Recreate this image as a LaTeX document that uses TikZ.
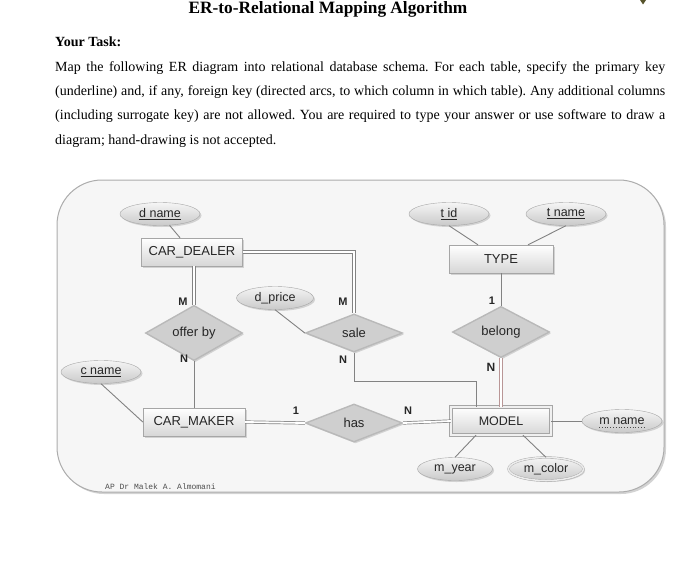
\documentclass[tikz,border=0pt]{standalone}
\usepackage{fontspec}
\setmainfont{Liberation Serif}
\newfontfamily\diagfont{Liberation Sans}
\newfontfamily\footfont{Liberation Mono}
\usetikzlibrary{shapes.geometric,shadows,calc}
\definecolor{pinkline}{RGB}{185,150,150}
\definecolor{linegray}{RGB}{130,130,130}
\frenchspacing
\begin{document}
\begin{tikzpicture}[x=1pt,y=-1pt,
  shd/.style={drop shadow={opacity=0.3,shadow xshift=1.5pt,shadow yshift=-1.5pt}},
  ent/.style={rectangle, draw=gray!70, top color=white, bottom color=gray!32, minimum width=101pt, minimum height=28pt, inner sep=0pt, font=\diagfont\fontsize{13}{15}\selectfont, text=black!85, shd},
  attr/.style={ellipse, draw=gray!70, top color=gray!8, bottom color=gray!42, minimum width=80pt, minimum height=23pt, inner sep=0pt, font=\diagfont\fontsize{12.5}{14}\selectfont, text=black!85, shd},
  rel/.style={diamond, draw=gray!55, line width=1.4pt, fill=gray!38, minimum width=97pt, minimum height=38pt, inner sep=0pt, font=\diagfont\fontsize{13}{15}\selectfont, text=black!85, shd},
  conn/.style={draw=linegray, line width=0.9pt},
  dconn/.style={draw=linegray, double=white, double distance=1.8pt, line width=0.7pt},
  card/.style={font=\diagfont\bfseries\fontsize{11}{12}\selectfont, text=black!85, inner sep=0pt},
  para/.style={anchor=base west, inner sep=0pt, font=\fontsize{14}{16}\selectfont}
]
\useasboundingbox (0,0) rectangle (700,578);
% header text
\node[anchor=base, inner sep=0pt, font=\bfseries\fontsize{17.3}{20}\selectfont] (title) at (328,14) {ER-to-Relational Mapping Algorithm};
\fill[olive!50!black] (640,0) -- (646,0) -- (643,4.5) -- cycle;
\node[para, font=\bfseries\fontsize{14}{16}\selectfont] (task) at (55,47) {Your Task:};
\node[para] (l1) at (55,71) {\makebox[610pt][s]{Map the following ER diagram into relational database schema. For each table, specify the primary key}};
\node[para] (l2) at (55,95) {\makebox[610pt][s]{(underline) and, if any, foreign key (directed arcs, to which column in which table). Any additional columns}};
\node[para] (l3) at (55,119) {\makebox[610pt][s]{(including surrogate key) are not allowed. You are required to type your answer or use software to draw a}};
\node[para] (l4) at (55,144) {diagram; hand-drawing is not accepted.};
% frame
\draw[rounded corners=45pt, fill=gray!7, draw=gray!65, line width=1pt, drop shadow={opacity=0.35,shadow xshift=2pt,shadow yshift=-2pt}] (57,180) rectangle (664,492);
% entities
\node[ent] (cd) at (192,252) {CAR\_DEALER};
\node[ent, minimum width=104pt] (type) at (501,259) {TYPE};
\node[ent, minimum width=102pt] (cm) at (194,422) {CAR\_MAKER};
\node[ent, minimum width=100pt, minimum height=28pt, double=gray!12, double distance=2.5pt, font=\diagfont\fontsize{12.5}{14}\selectfont] (model) at (501,421) {MODEL};
% attributes
\node[attr] (dname) at (160,214) {\underline{d name}};
\node[attr] (tid) at (449,214) {\underline{t id}};
\node[attr] (tname) at (566,214) {\underline{t name}};
\node[attr, minimum width=77pt] (dprice) at (275,298) {d\_price};
\node[attr] (cname) at (101,372) {\underline{c name}};
\node[attr] (mname) at (622,421) {m name};
\draw[black!70, line width=0.8pt, dotted] ($(mname.center)+(-23,6.5)$) -- ($(mname.center)+(23,6.5)$);
\node[attr, minimum width=75pt] (myear) at (455,469) {m\_year};
\node[attr, minimum width=75pt, double=gray!15, double distance=1.5pt] (mcolor) at (546,469) {m\_color};
% relationships
\node[rel] (offer) at (194,333) {offer by};
\node[rel] (sale) at (354,333) {sale};
\node[rel] (belong) at (501,332) {belong};
\node[rel] (has) at (354,423) {has};
% connectors
\draw[conn] (dname) -- (cd);
\draw[conn] (tid.south) -- ($(type.north)+(-23,0)$);
\draw[conn] (tname.south) -- ($(type.north)+(27,0)$);
\draw[dconn] (cd.south -| offer.north) -- (offer.north);
\draw[conn] (offer.south) -- (offer.south |- cm.north);
\draw[dconn] (cd.east) -| (sale.north);
\draw[conn] (dprice.south) -- (sale.west);
\coordinate (smk) at (476,381);
\draw[conn] (sale.south) |- (smk) -- (smk |- model.north);
\draw[conn] (type.south) -- (belong.north);
\draw[dconn, draw=pinkline, double=white] (belong.south) -- (belong.south |- model.north);
\draw[conn] (cname.south) -- (cm.west);
\draw[dconn] (cm.east) -- (has.west);
\draw[dconn] (has.east) -- (model.west);
\draw[conn] (model.east) -- (mname.west);
\draw[conn] ($(model.south)+(-25,0)$) -- (myear.north);
\draw[conn] ($(model.south)+(22,0)$) -- (mcolor.north);
% cardinalities
\node[card] (c1) at (183,302) {M};
\node[card] (c2) at (184,359) {N};
\node[card] (c3) at (343,302) {M};
\node[card] (c4) at (343,360) {N};
\node[card] (c5) at (492,301) {1};
\node[card, font=\diagfont\bfseries\fontsize{12}{13}\selectfont] (c6) at (491,367) {N};
\node[card] (c7) at (296,411) {1};
\node[card] (c8) at (408,411) {N};
% footer
\node[anchor=base west, inner sep=0pt, font=\footfont\fontsize{8}{9}\selectfont, text=black!70] (foot) at (105,489) {AP Dr Malek A. Almomani};
\end{tikzpicture}
\end{document}
